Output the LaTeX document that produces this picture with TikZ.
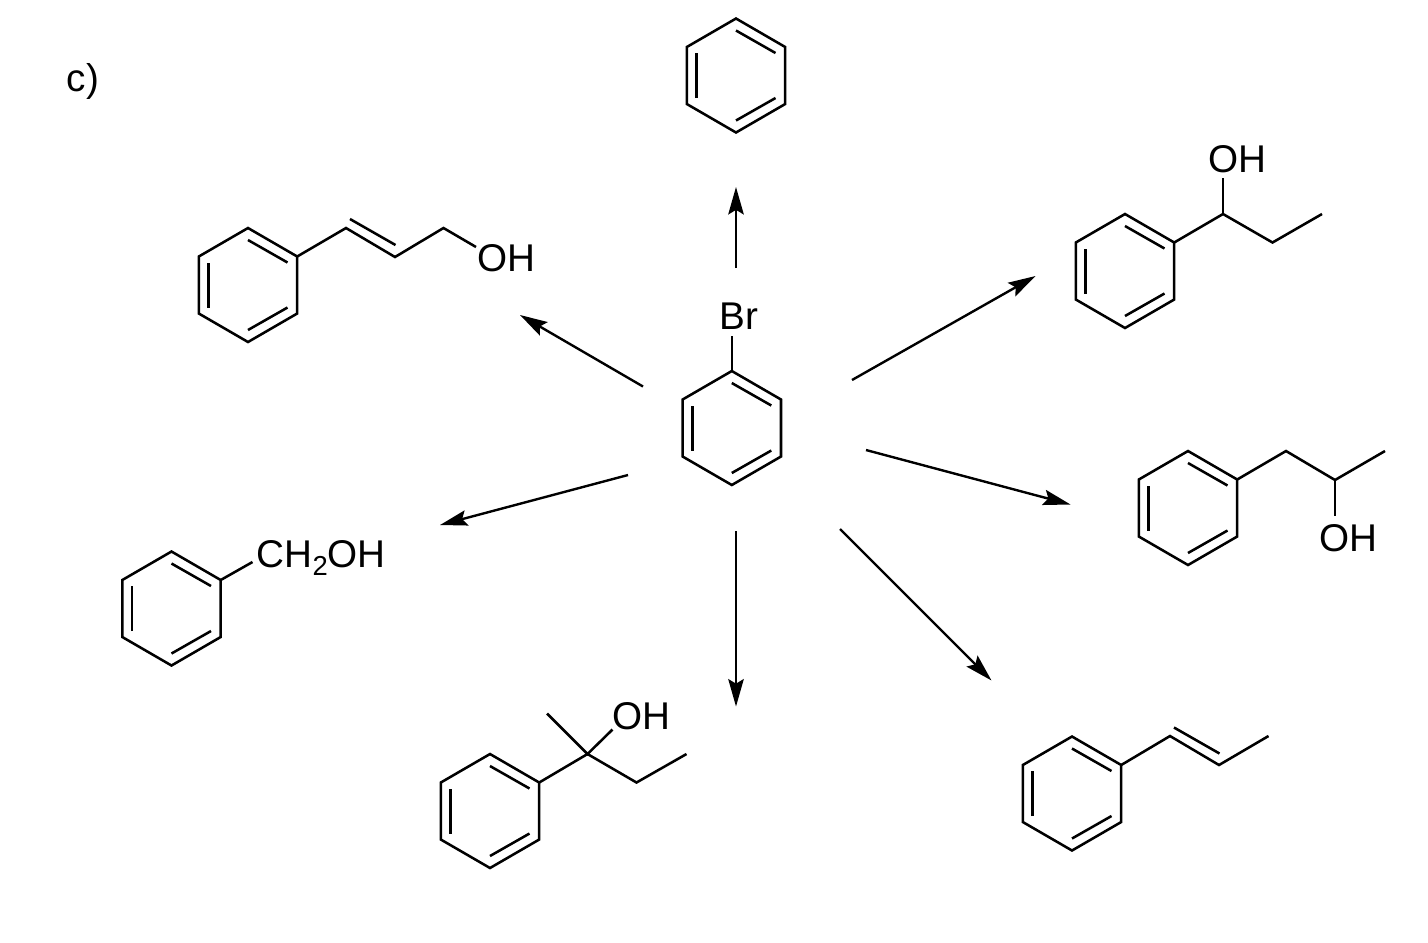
\documentclass[tikz,border=0pt]{standalone}
\usepackage{fontspec}
\setmainfont{Liberation Sans}
\usetikzlibrary{arrows.meta}
\tikzset{>={Stealth[length=7.8pt,width=4.4pt,inset=1.3pt]}}
\tikzset{bond/.style={line width=0.72pt},
  rxn/.style={->,line width=0.68pt},
  atom/.style={inner sep=0pt,font=\fontsize{11}{13}\selectfont}}
% phenyl ring: name, centre x, centre y
\newcommand{\phring}[3]{%
\coordinate (#1t) at (#2,#3-57);
\coordinate (#1ur) at (#2+49.2,#3-28.5);
\coordinate (#1lr) at (#2+49.2,#3+28.5);
\coordinate (#1b) at (#2,#3+57);
\coordinate (#1ll) at (#2-49.2,#3+28.5);
\coordinate (#1ul) at (#2-49.2,#3-28.5);
\draw[bond] (#1t) -- (#1ur) -- (#1lr) -- (#1b) -- (#1ll) -- (#1ul) -- cycle;
\coordinate (#1it) at (#2,#3-45);
\coordinate (#1iur) at (#2+39.5,#3-22.5);
\coordinate (#1ilr) at (#2+39.5,#3+22.5);
\coordinate (#1ib) at (#2,#3+45);
\coordinate (#1ill) at (#2-39.5,#3+22.5);
\coordinate (#1iul) at (#2-39.5,#3-22.5);
\draw[bond] (#1it) -- (#1iur);
\draw[bond] (#1ilr) -- (#1ib);
\draw[bond] (#1ill) -- (#1iul);
}
\begin{document}
\begin{tikzpicture}[x=0.1mm,y=-0.1mm]
\useasboundingbox (0,0) rectangle (1428,942);
\node[atom,anchor=base west] (lbl) at (66,91.5) {c)};

% bromobenzene
\phring{brb}{731.8}{428}
\node[atom] (br) at (739,316.5) {Br};
\coordinate (brend) at (731.8,336);
\draw[bond] (brbt) -- (brend);

% benzene
\phring{bz}{736}{75.5}

% cinnamyl alcohol
\phring{cin}{248}{285}
\coordinate (cin1) at (346,228);
\coordinate (cin2) at (395,257);
\coordinate (cin3) at (443.5,228);
\coordinate (cin4) at (476,247);
\coordinate (cin5) at (350,219);
\coordinate (cin6) at (395.5,245);
\node[atom] (cinoh) at (506.5,258) {OH};
\draw[bond] (cinur) -- (cin1) -- (cin2) -- (cin3) -- (cin4);
\draw[bond] (cin5) -- (cin6);

% 1-phenylpropanol
\phring{pp}{1125}{271}
\coordinate (pp1) at (1223,214);
\coordinate (pp2) at (1272.5,242.5);
\coordinate (pp3) at (1322,214);
\coordinate (pp4) at (1223,178);
\node[atom] (ppoh) at (1237,159) {OH};
\draw[bond] (ppur) -- (pp1) -- (pp2) -- (pp3);
\draw[bond] (pp1) -- (pp4);

% 1-phenylpropan-2-ol
\phring{pq}{1188}{508}
\coordinate (pq1) at (1286,451);
\coordinate (pq2) at (1335,480);
\coordinate (pq3) at (1385,451);
\coordinate (pq4) at (1335,516);
\node[atom] (pqoh) at (1348,538) {OH};
\draw[bond] (pqur) -- (pq1) -- (pq2) -- (pq3);
\draw[bond] (pq2) -- (pq4);

% benzyl alcohol
\phring{bn}{171.5}{608.5}
\coordinate (bn1) at (252.5,562);
\node[atom,anchor=base west] (bnoh) at (256,567.5) {CH\raisebox{-2.4pt}{\fontsize{7.8}{8}\selectfont 2}OH};
\draw[bond] (bnur) -- (bn1);

% tertiary alcohol
\phring{ta}{490}{811}
\coordinate (ta1) at (587.5,754);
\coordinate (ta2) at (636.5,782.5);
\coordinate (ta3) at (686.5,754);
\coordinate (ta4) at (547,713.5);
\coordinate (ta5) at (612.5,729.5);
\node[atom] (taoh) at (641,716) {OH};
\draw[bond] (taur) -- (ta1) -- (ta2) -- (ta3);
\draw[bond] (ta4) -- (ta1) -- (ta5);

% propenylbenzene
\phring{pe}{1072}{793.5}
\coordinate (pe1) at (1170,736);
\coordinate (pe2) at (1219,765);
\coordinate (pe3) at (1268.5,736);
\coordinate (pe4) at (1174,727.5);
\coordinate (pe5) at (1219.5,753.5);
\draw[bond] (peur) -- (pe1) -- (pe2) -- (pe3);
\draw[bond] (pe4) -- (pe5);

% arrows out of the centre
\foreach \nm/\xa/\ya/\xb/\yb in {up/736/268/736/187,ur/852/380/1035.5/276,
  rt/866/450/1070.5/504.5,dr/840/529/991.5/680.5,dn/736/531/736/706.5,
  lf/628/475/440/525,ul/643/386.5/520/315}{
\coordinate (\nm s) at (\xa,\ya);
\coordinate (\nm e) at (\xb,\yb);
\draw[rxn] (\nm s) -- (\nm e);
}
\end{tikzpicture}
\end{document}
